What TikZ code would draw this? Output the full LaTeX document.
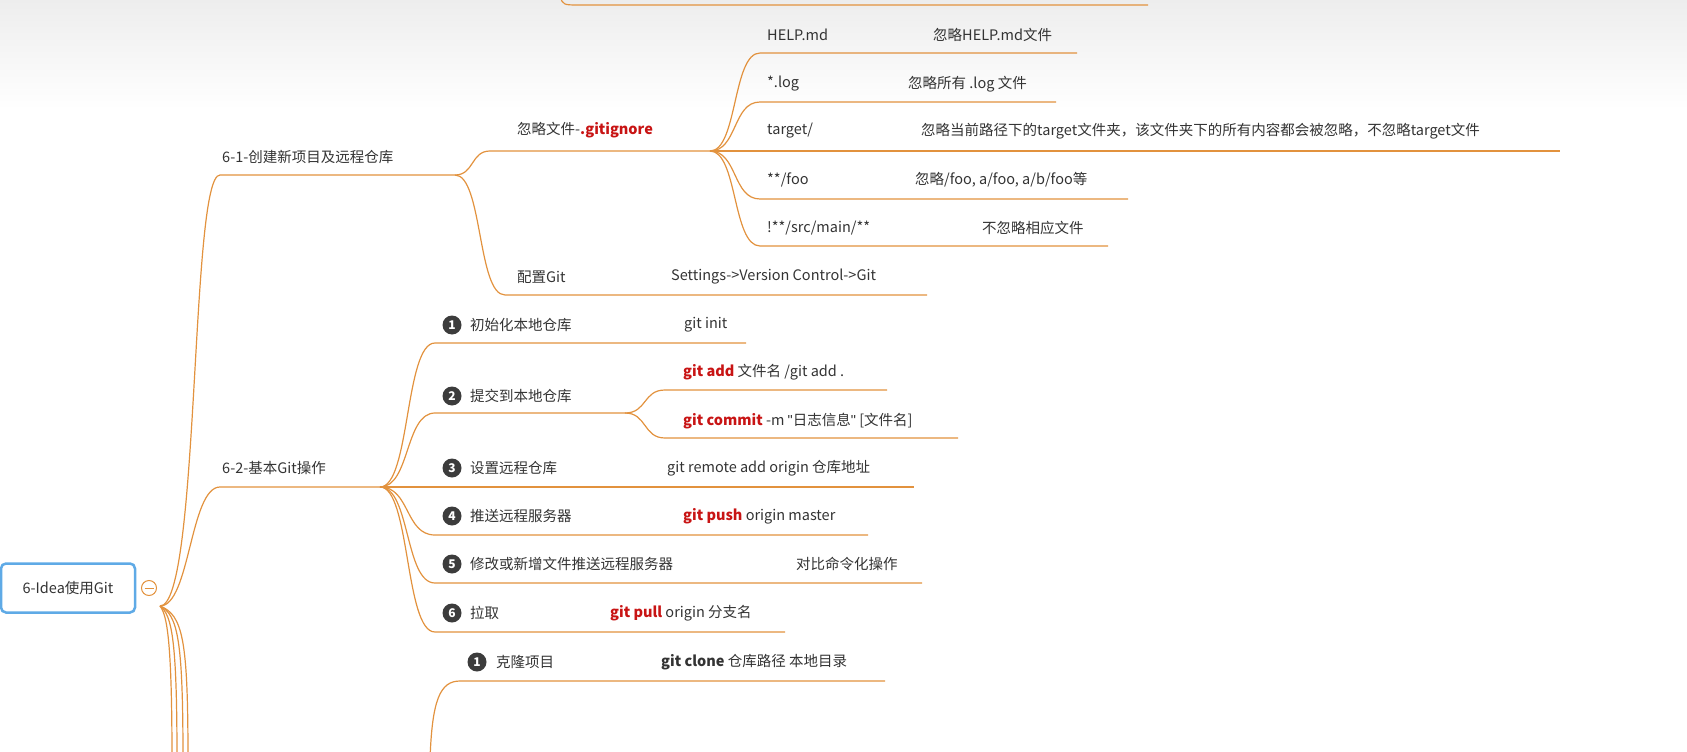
\documentclass[tikz,border=0pt]{standalone}
\usepackage{fontspec}
\setmainfont{Noto Sans CJK SC}
\newfontfamily\lib{Liberation Sans}
\begin{document}
\begin{tikzpicture}[x=1pt,y=-1pt,
  ln/.style={draw=lineor,line width=1.2pt},
  tx/.style={anchor=west,inner sep=0pt,text=txt,font=\fontsize{14.5}{16}\selectfont},
  num/.style={circle,fill=numc,text=white,inner sep=0pt,minimum size=19pt,font=\fontsize{12}{12}\selectfont\bfseries}]
\definecolor{lineor}{RGB}{226,146,62}
\definecolor{txt}{RGB}{51,51,51}
\definecolor{redc}{RGB}{200,20,20}
\definecolor{numc}{RGB}{60,60,60}
\definecolor{blu}{RGB}{95,170,230}
\useasboundingbox (0,0) rectangle (1687,752);
\shade[top color=black!7,bottom color=white] (0,0) rectangle (1687,110);
\newcommand\br[5]{\draw[ln] (#1,#2) .. controls ({#1+0.55*(#3-#1)},#2) and ({#1+0.45*(#3-#1)},#4) .. (#3,#4) -- (#5,#4);}
% top
\draw[ln] (560,-4) .. controls (563,5) .. (580,5) -- (1148,5);
% root
\node[draw=blu,line width=2.5pt,rounded corners=5pt,minimum width=134pt,minimum height=49pt,fill=white,text=txt,font=\fontsize{14.5}{16}\selectfont] (root) at (68,588) {6-Idea使用Git};
\node[circle,draw=lineor,line width=1pt,minimum size=15pt,inner sep=0pt] (minus) at (149,588) {};
\draw[lineor,line width=1pt] (144.5,588) -- (153.5,588);
\coordinate (r) at (160,606);
\draw[ln] (r) .. controls (200,606) and (190,175) .. (220,175) -- (455,175);
\draw[ln] (r) .. controls (190,606) and (190,487) .. (220,487) -- (380,487);
\foreach \xx in {172,177,183,188} \draw[ln] (r) .. controls (\xx-5,615) and (\xx,640) .. (\xx,760);
\node[tx] (n61) at (222,157) {6-1-创建新项目及远程仓库};
\node[tx] (n62) at (222,468) {6-2-基本Git操作};
% 6-1 children
\br{455}{175}{490}{151}{710}
\br{455}{175}{505}{295}{927}
\node[tx] (gi) at (517,130) {忽略文件-\textcolor{redc}{\bfseries .gitignore}};
\node[tx] (cg) at (517,277) {配置Git};
\node[tx] (cgs) at (671,277) {Settings->Version Control->Git};
% gitignore children
\br{710}{151}{760}{53}{1077}
\br{710}{151}{760}{102}{1056}
\br{710}{151}{760}{151}{1560}
\br{710}{151}{760}{199}{1128}
\br{710}{151}{760}{246}{1108}
\node[tx] (g1) at (767,35) {HELP.md};
\node[tx] (g1r) at (933,35) {忽略HELP.md文件};
\node[tx] (g2) at (767,84) {*.log};
\node[tx] (g2r) at (908,84) {忽略所有 .log 文件};
\node[tx] (g3) at (767,131) {target/};
\node[tx] (g3r) at (921,131) {忽略当前路径下的target文件夹，该文件夹下的所有内容都会被忽略，不忽略target文件};
\node[tx] (g4) at (767,180) {**/foo};
\node[tx] (g4r) at (915,180) {忽略/foo, a/foo, a/b/foo等};
\node[tx] (g5) at (767,228) {!**/src/main/**};
\node[tx] (g5r) at (982,228) {不忽略相应文件};
% 6-2 children
\br{380}{487}{435}{343}{746}
\br{380}{487}{435}{413}{625}
\br{380}{487}{435}{487}{914}
\br{380}{487}{435}{535}{868}
\br{380}{487}{435}{583}{922}
\br{380}{487}{435}{632}{785}
\br{625}{413}{665}{390}{887}
\br{625}{413}{665}{438}{958}
\node[num] (c1) at (452,325) {1}; \node[tx] (t1) at (470,325) {初始化本地仓库};
\node[tx] (t1r) at (684,325) {git init};
\node[num] (c2) at (452,396) {2}; \node[tx] (t2) at (470,396) {提交到本地仓库};
\node[tx] (t2a) at (683,372) {\textcolor{redc}{\bfseries git add} 文件名 /git add .};
\node[tx] (t2b) at (683,421) {\textcolor{redc}{\bfseries git commit} -m {\lib"}日志信息{\lib"} [文件名]};
\node[num] (c3) at (452,468) {3}; \node[tx] (t3) at (470,468) {设置远程仓库};
\node[tx] (t3r) at (667,468) {git remote add origin 仓库地址};
\node[num] (c4) at (452,516) {4}; \node[tx] (t4) at (470,516) {推送远程服务器};
\node[tx] (t4r) at (683,516) {\textcolor{redc}{\bfseries git push} origin master};
\node[num] (c5) at (452,564) {5}; \node[tx] (t5) at (470,564) {修改或新增文件推送远程服务器};
\node[tx] (t5r) at (796,564) {对比命令化操作};
\node[num] (c6) at (452,613) {6}; \node[tx] (t6) at (470,613) {拉取};
\node[tx] (t6r) at (610,613) {\textcolor{redc}{\bfseries git pull} origin 分支名};
% bottom
\draw[ln] (430,760) .. controls (432,700) and (440,681) .. (460,681) -- (885,681);
\node[num] (c7) at (477,662) {1}; \node[tx] (t7) at (496,662) {克隆项目};
\node[tx] (t7r) at (661,662) {\textbf{git clone} 仓库路径 本地目录};
\end{tikzpicture}
\end{document}
